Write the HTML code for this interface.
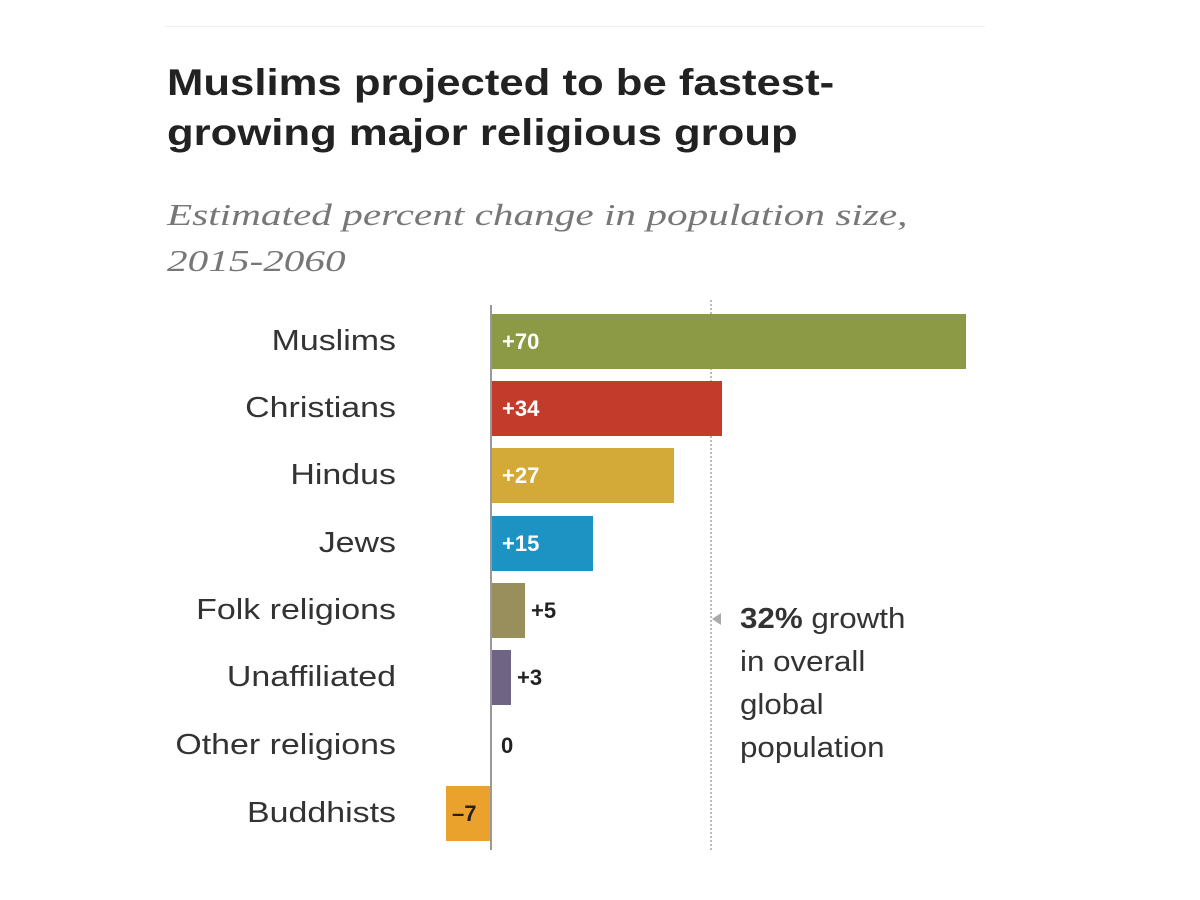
<!DOCTYPE html>
<html><head><meta charset="utf-8"><style>
body{margin:0;width:1200px;height:900px;background:#fff;position:relative;overflow:hidden;font-family:"Liberation Sans",sans-serif;}
.a{position:absolute;}
.title{left:167px;top:58px;font-size:37px;font-weight:bold;color:#222;line-height:50px;transform:scaleX(1.18);transform-origin:0 0;white-space:nowrap;}
.sub{left:167px;top:192px;font-family:"Liberation Serif",serif;font-style:italic;font-size:31px;color:#777;line-height:46px;transform:scaleX(1.33);transform-origin:0 0;white-space:nowrap;}
.lab{left:0;width:396px;font-size:29px;color:#333;height:55px;line-height:55px;text-align:right;white-space:nowrap;transform:scaleX(1.17);transform-origin:396px 0;}
.bar{height:55px;}
.v{font-size:22px;font-weight:bold;height:55px;line-height:55px;}
.in{color:#fff;left:502px;}
.out{color:#222;}
</style></head><body>
<div class="a" style="left:165px;top:26px;width:820px;height:1px;background:#eee"></div>
<div class="a title">Muslims projected to be fastest-<br>growing major religious group</div>
<div class="a sub">Estimated percent change in population size,<br>2015-2060</div>
<div class="a" style="left:710px;top:300px;height:550px;border-left:2px dotted #bbb"></div>
<div class="a lab" style="top:314px">Muslims</div>
<div class="a lab" style="top:381px">Christians</div>
<div class="a lab" style="top:448px">Hindus</div>
<div class="a lab" style="top:516px">Jews</div>
<div class="a lab" style="top:583px">Folk religions</div>
<div class="a lab" style="top:650px">Unaffiliated</div>
<div class="a lab" style="top:718px">Other religions</div>
<div class="a lab" style="top:786px">Buddhists</div>
<div class="a bar" style="left:491px;top:314px;width:475px;background:#8d9a45"></div>
<div class="a bar" style="left:491px;top:381px;width:231px;background:#c33b2b"></div>
<div class="a bar" style="left:491px;top:448px;width:183px;background:#d3a937"></div>
<div class="a bar" style="left:491px;top:516px;width:102px;background:#1d93c3"></div>
<div class="a bar" style="left:491px;top:583px;width:34px;background:#998f5c"></div>
<div class="a bar" style="left:491px;top:650px;width:20px;background:#6f6483"></div>
<div class="a bar" style="left:446px;top:786px;width:45px;background:#eba22d"></div>
<div class="a" style="left:490px;top:305px;width:2px;height:545px;background:#999"></div>
<div class="a v in" style="top:314px">+70</div>
<div class="a v in" style="top:381px">+34</div>
<div class="a v in" style="top:448px">+27</div>
<div class="a v in" style="top:516px">+15</div>
<div class="a v out" style="left:531px;top:583px">+5</div>
<div class="a v out" style="left:517px;top:650px">+3</div>
<div class="a v out" style="left:501px;top:718px">0</div>
<div class="a v out" style="left:452px;top:786px">–7</div>
<div class="a" style="left:712px;top:613px;width:0;height:0;border-top:6px solid transparent;border-bottom:6px solid transparent;border-right:9px solid #aaa"></div>
<div class="a" style="left:740px;top:598px;font-size:29px;color:#333;line-height:43px;transform:scaleX(1.08);transform-origin:0 0;white-space:nowrap"><b>32%</b> growth<br>in overall<br>global<br>population</div>
</body></html>
